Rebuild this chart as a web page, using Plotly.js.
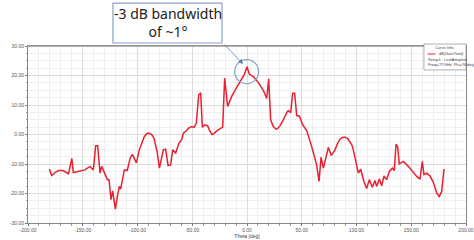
<!DOCTYPE html>
<html>
<head>
<meta charset="utf-8">
<script src="https://cdn.plot.ly/plotly-3.0.1.min.js"></script>
<style>html,body{margin:0;padding:0;background:#fff;}#chart{width:474px;height:240px;}</style>
</head>
<body>
<div id="chart"></div>
<script>
// Theta [deg]
const theta = [-180.5,-178.4,-175,-172,-168,-163,-160,-158.6,-148,-143.4,-140.3,-138.2,-136.4,-134.2,-132.7,-129.7,-127.5,-126,-124.2,-122.7,-120.2,-118.4,-116.6,-115.4,-112,-109.3,-106.8,-104.7,-101,-98.3,-96,-94,-92,-90.1,-88.5,-86.8,-85,-83.7,-82,-80,-76.4,-74.3,-72.1,-69.7,-67.9,-65.1,-62.1,-59.7,-58.1,-55.1,-53.6,-50.5,-48.4,-46.3,-44.1,-42.3,-40.8,-38.4,-35.9,-34,-32,-30,-27.7,-22.2,-20.4,-17.7,-14,-9.4,-4.9,-2.4,0,2.1,5.8,10.4,15,18,19.8,21.6,24,26.5,28,30.1,32.5,34.7,36.5,37.7,39.9,41.7,43.5,45.4,47.8,50.8,54.5,59.1,63.6,65.8,67.6,69.7,72.1,74.3,77,80.4,82.5,84.9,87,89.5,92,94.1,95.8,97.1,98.5,100.2,101.7,103.8,106.8,109.3,111.7,114.5,116.9,118.4,120.9,123,125.1,127.5,130,132.7,134.5,136.1,137.6,139.1,142.8,147.3,151.9,155,158,160.1,161.6,164.1,167.1,170.2,173.2,175.6,177.8,179.9];
// dB(GainTotal)
const gain = [-11.7,-13.9,-12.8,-12.2,-12.2,-13.3,-8.1,-12.9,-12,-10.8,-12,-3.8,-3.8,-13.1,-10.8,-13.6,-15.3,-15.3,-22.1,-19.1,-25.3,-21,-17.6,-18.5,-12,-12.2,-8.1,-6.7,-9.6,-5.2,-2.8,-0.9,0.1,0.45,0.3,-0.1,-1.2,-2.9,-6,-11.4,-5.2,-5,-10.5,-10.3,-5.2,-6.3,-2.9,-1.8,0.45,1.35,2.1,2.7,2.4,3.8,13.4,14.2,2.5,3.3,2.9,1.2,0,0.4,1.2,2.5,19.1,9.5,12.9,16,18.9,20.4,23,20.5,19.6,17.6,14.9,12.2,18.9,5,2.7,1.8,2.0,2.9,4.5,6.3,7.6,8.1,7.4,14,14,6.4,6.3,3.3,1.35,-4.1,-10.3,-15.9,-7.7,-11.4,-7.2,-4.4,-7.1,-5.2,-3.2,-1.6,-1.0,-0.9,-1.4,-2.4,-3.6,-5.2,-8,-11.4,-13.1,-11.7,-15.9,-18.3,-15.3,-17.9,-15.6,-17.6,-15.1,-17.4,-14,-15.3,-12.5,-11.4,-12.2,-3.3,-4.1,-10,-9.1,-10.8,-12.9,-14.2,-15.1,-9.1,-13.6,-13.1,-14,-16.2,-19.8,-21,-19.3,-11.7];
const xTicks = [-200,-150,-100,-50,0,50,100,150,200];
const yTicks = [-30,-20,-10,0,10,20,30];
const legendLines = ["dB(GainTotal)","Setup1 : LastAdaptive","Freq='77GHz' Phi='90deg'"];
const calloutLines = ["-3 dB bandwidth","of ~1\u00b0"];

const tickFont = {family:"Liberation Sans, Arial, sans-serif", size:5, color:"#555"};
const trace = {
  x: theta, y: gain, type:"scatter", mode:"lines",
  line:{color:"#e8202f", width:1.5, shape:"linear"},
  showlegend:false, hoverinfo:"skip"
};
const layout = {
  width:474, height:240,
  margin:{l:28, r:8, t:46, b:17, pad:0},
  paper_bgcolor:"#fff", plot_bgcolor:"#fff",
  showlegend:false,
  xaxis:{
    range:[-200,200], tickvals:xTicks, ticktext:xTicks.map(v=>v.toFixed(2)),
    tickfont:tickFont, ticks:"outside", ticklen:2, tickcolor:"#777",
    showline:true, linecolor:"#888", linewidth:1, mirror:true,
    showgrid:true, gridcolor:"#dcdcdc", gridwidth:1, zeroline:false,
    minor:{dtick:10, showgrid:true, gridcolor:"#efefef", ticks:"outside", ticklen:1.5, tickcolor:"#999"},
    title:{text:"Theta [deg]", font:{family:"Liberation Sans, Arial, sans-serif", size:5, color:"#444"}, standoff:2}
  },
  yaxis:{
    range:[-30,30], tickvals:yTicks, ticktext:yTicks.map(v=>v.toFixed(2)),
    tickfont:tickFont, ticks:"outside", ticklen:2, tickcolor:"#777",
    showline:true, linecolor:"#888", linewidth:1, mirror:true,
    showgrid:true, gridcolor:"#dcdcdc", gridwidth:1, zeroline:false,
    minor:{dtick:2.5, showgrid:true, gridcolor:"#efefef", ticks:"outside", ticklen:1.5, tickcolor:"#999"}
  },
  shapes:[
    {type:"line", xref:"paper", yref:"paper", x0:0, x1:1, y0:1, y1:1, line:{color:"#999", width:1.5}},
    {type:"rect", xref:"paper", yref:"paper", x0:0.194, x1:0.443, y0:1.017, y1:1.2425,
     line:{color:"#8aa2c4", width:1.2}, fillcolor:"#ffffff", layer:"above"},
    {type:"circle", xref:"x", yref:"y", xsizemode:"pixel", ysizemode:"pixel",
     xanchor:-0.3, yanchor:21.3, x0:-12, x1:12, y0:-12, y1:12,
     line:{color:"#8aa2c4", width:1.2}, fillcolor:"rgba(0,0,0,0)", layer:"above"},
    {type:"rect", xref:"paper", yref:"paper", x0:0.904, x1:1.0, y0:0.865, y1:1.011,
     line:{color:"#999", width:0.8}, fillcolor:"#ffffff", layer:"above"},
    {type:"line", xref:"paper", yref:"paper", x0:0.912, x1:0.93, y0:0.955, y1:0.955,
     line:{color:"#e8202f", width:1}, layer:"above"}
  ],
  annotations:[
    {xref:"paper", yref:"paper", x:0.3185, y:1.13, text:calloutLines.join("<br>"),
     showarrow:false, font:{family:"Noto Sans, Liberation Sans, sans-serif", size:14, color:"#222"},
     align:"center", xanchor:"center", yanchor:"middle"},
    {xref:"x", yref:"y", x:-3.6, y:23.9, text:"", showarrow:true, arrowhead:2, arrowsize:1.2,
     arrowwidth:0.8, arrowcolor:"#5b7fae", ax:-20, ay:-21},
    {xref:"paper", yref:"paper", x:0.952, y:0.99, text:"Curve Info", showarrow:false,
     font:{family:"Liberation Sans, Arial, sans-serif", size:4, color:"#444"}, xanchor:"center", yanchor:"middle"},
    {xref:"paper", yref:"paper", x:0.934, y:0.958, text:legendLines[0], showarrow:false,
     font:{family:"Liberation Sans, Arial, sans-serif", size:4, color:"#444"}, xanchor:"left", yanchor:"middle"},
    {xref:"paper", yref:"paper", x:0.908, y:0.925, text:legendLines[1], showarrow:false,
     font:{family:"Liberation Sans, Arial, sans-serif", size:4, color:"#444"}, xanchor:"left", yanchor:"middle"},
    {xref:"paper", yref:"paper", x:0.908, y:0.893, text:legendLines[2], showarrow:false,
     font:{family:"Liberation Sans, Arial, sans-serif", size:4, color:"#444"}, xanchor:"left", yanchor:"middle"}
  ]
};
Plotly.newPlot("chart", [trace], layout, {displayModeBar:false, staticPlot:true});
</script>
</body>
</html>
